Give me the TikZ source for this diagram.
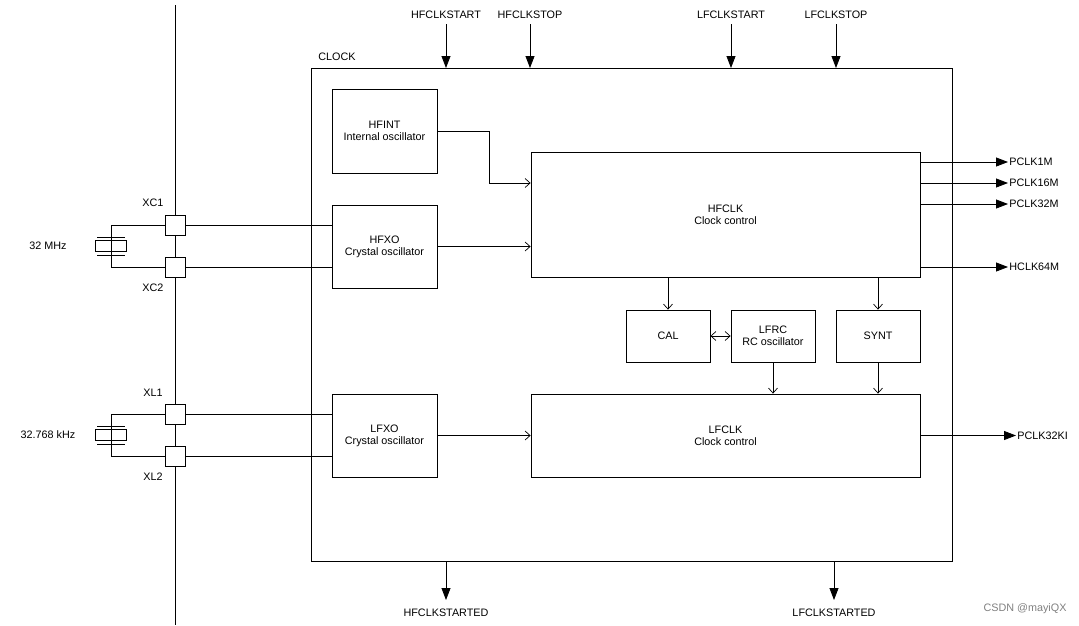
\documentclass[tikz,border=0pt]{standalone}
\usepackage{fontspec}
\setmainfont{Liberation Sans}
\usetikzlibrary{arrows.meta}
\begin{document}
\begin{tikzpicture}[x=1pt,y=-1pt,line width=0.8pt,
  every node/.style={font=\fontsize{10.8}{12}\selectfont},
  blk/.style={draw,rectangle,inner sep=0pt,align=center},
  pin/.style={draw,rectangle,minimum size=20pt,inner sep=0pt,fill=white},
  lbl/.style={inner sep=1pt},
  ia/.style={-{Straight Barb[length=5pt,width=9pt,line width=0.7pt]}},
  ib/.style={{Straight Barb[length=5pt,width=9pt,line width=0.7pt]}-{Straight Barb[length=5pt,width=9pt,line width=0.7pt]}},
  oa/.style={-{Triangle[length=12pt,width=9pt]}}]
\useasboundingbox (0,0) rectangle (1079,625);
% bus
\coordinate (bt) at (175,5); \coordinate (bb) at (175,625);
\draw (bt) -- (bb);
% clock box
\node[blk,minimum width=641pt,minimum height=493pt] (clock) at (631.5,314.5) {};
\node[lbl,anchor=west] (clocklbl) at (317,57) {CLOCK};
% blocks
\node[blk,minimum width=105pt,minimum height=84pt] (hfint) at (384.5,131) {HFINT\\Internal oscillator};
\node[blk,minimum width=105pt,minimum height=83pt] (hfxo) at (384.5,246.5) {HFXO\\Crystal oscillator};
\node[blk,minimum width=105pt,minimum height=83pt] (lfxo) at (384.5,435.5) {LFXO\\Crystal oscillator};
\node[blk,minimum width=389pt,minimum height=125pt] (hfclk) at (725.5,214.5) {HFCLK\\Clock control};
\node[blk,minimum width=389pt,minimum height=83pt] (lfclk) at (725.5,435.5) {LFCLK\\Clock control};
\node[blk,minimum width=84pt,minimum height=52pt] (cal) at (668,336) {CAL};
\node[blk,minimum width=84pt,minimum height=52pt] (lfrc) at (773,336) {LFRC\\RC oscillator};
\node[blk,minimum width=84pt,minimum height=52pt] (synt) at (878,336) {SYNT};
% pins
\node[pin] (xc1) at (175,225) {};
\node[pin] (xc2) at (175,267) {};
\node[pin] (xl1) at (175,414) {};
\node[pin] (xl2) at (175,456) {};
\node[lbl] (xc1l) at (153,203) {XC1};
\node[lbl] (xc2l) at (153,288) {XC2};
\node[lbl] (xl1l) at (153,393) {XL1};
\node[lbl] (xl2l) at (153,477) {XL2};
% crystals
\foreach \n/\y/\t/\tx in {c1/246/32 MHz/48, c2/435/32.768 kHz/48}{
  \node[draw,rectangle,minimum width=31pt,minimum height=11pt,inner sep=0pt] (q\n) at (111,\y) {};
  \node[lbl] (f\n) at (\tx,\y) {\t};
  \draw ([xshift=-14pt,yshift=-9pt]q\n.center) -- ([xshift=14pt,yshift=-9pt]q\n.center);
  \draw ([xshift=-14pt,yshift=9pt]q\n.center) -- ([xshift=14pt,yshift=9pt]q\n.center);
}
\draw (xc1.west) -| ([yshift=-9pt]qc1.center);
\draw (xc2.west) -| ([yshift=9pt]qc1.center);
\draw (xl1.west) -| ([yshift=-9pt]qc2.center);
\draw (xl2.west) -| ([yshift=9pt]qc2.center);
\draw (xc1.east) -- (xc1.east -| hfxo.west);
\draw (xc2.east) -- (xc2.east -| hfxo.west);
\draw (xl1.east) -- (xl1.east -| lfxo.west);
\draw (xl2.east) -- (xl2.east -| lfxo.west);
% internal arrows
\coordinate (bend) at (489,131);
\draw[ia] (hfint.east) -- (bend) |- (hfclk.west |- 0,183);
\draw[ia] (hfxo.east) -- (hfxo.east -| hfclk.west);
\draw[ia] (lfxo.east) -- (lfxo.east -| lfclk.west);
\draw[ia] (hfclk.south -| cal) -- (cal.north);
\draw[ia] (hfclk.south -| synt) -- (synt.north);
\draw[ia] (lfrc.south) -- (lfclk.north -| lfrc);
\draw[ia] (synt.south) -- (lfclk.north -| synt);
\draw[ib] (cal.east) -- (lfrc.west);
% outputs
\foreach \n/\y/\t in {o1/162/PCLK1M, o2/183/PCLK16M, o3/204/PCLK32M, o4/267/HCLK64M}{
  \node[lbl,anchor=west] (\n) at (1008,\y) {\t};
  \draw[oa] (hfclk.east |- 0,\y) -- (\n.west);
}
\node[lbl,anchor=west] (o5) at (1016,435.5) {PCLK32KI};
\draw[oa] (lfclk.east) -- (lfclk.east -| o5.west);
% top inputs
\foreach \n/\x/\t in {i1/446/HFCLKSTART, i2/530/HFCLKSTOP, i3/731/LFCLKSTART, i4/836/LFCLKSTOP}{
  \node[lbl] (\n) at (\x,15) {\t};
  \draw[oa] (\x,24) -- (\x,68);
}
% bottom outputs
\foreach \n/\x/\t in {b1/446/HFCLKSTARTED, b2/834/LFCLKSTARTED}{
  \node[lbl] (\n) at (\x,613) {\t};
  \draw[oa] (\x,561) -- (\x,600);
}
\node[lbl,text=gray] (wm) at (1025,609) {CSDN @mayiQX};
\end{tikzpicture}
\end{document}
